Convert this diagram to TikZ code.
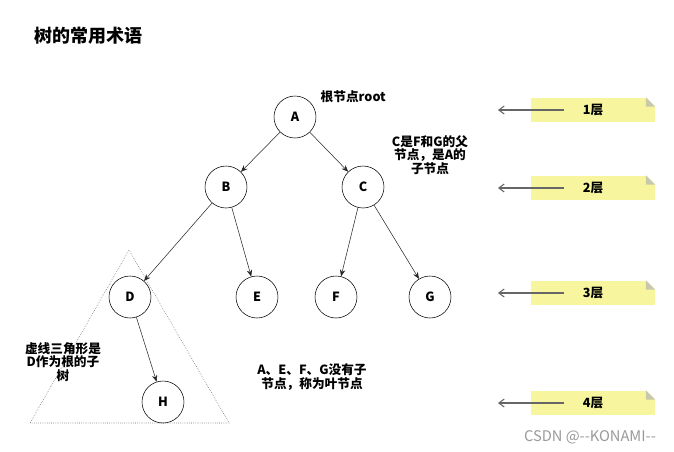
\documentclass[tikz,border=0pt]{standalone}
\usepackage{fontspec}
\setmainfont{Noto Sans CJK SC}
\usetikzlibrary{arrows.meta}
\definecolor{noteyellow}{RGB}{247,246,158}
\definecolor{foldgray}{RGB}{200,200,170}
\tikzset{
  treenode/.style={draw,circle,minimum size=31.5pt,inner sep=0pt,
    font=\bfseries\fontsize{9.5}{10}\selectfont},
  treeedge/.style={-{Stealth[length=5pt,width=4pt]},black!85},
  remark/.style={align=center,font=\bfseries\fontsize{9.5}{10}\selectfont},
  layernote/.style={fill=noteyellow,minimum width=93pt,minimum height=18.5pt,
    inner sep=0pt,font=\bfseries\fontsize{9.5}{10}\selectfont},
  layerarrow/.style={-{Straight Barb[length=4pt,width=6pt]},gray!80!black,thick}
}
\begin{document}
\begin{tikzpicture}[x=0.75pt,y=-0.75pt]
  \useasboundingbox (0,0) rectangle (674,451);
  % Title
  \node[anchor=west,font=\bfseries\fontsize{13.5}{15}\selectfont] (title) at (30,36) {树的常用术语};
  % Tree nodes
  \node[treenode] (A) at (295,117) {A};
  \node[treenode] (B) at (226,187) {B};
  \node[treenode] (C) at (363,187) {C};
  \node[treenode] (D) at (130,297) {D};
  \node[treenode] (E) at (257,297) {E};
  \node[treenode] (F) at (336,297) {F};
  \node[treenode] (G) at (430,297) {G};
  \node[treenode] (H) at (163,402) {H};
  % Edges
  \draw[treeedge] (A) -- (B);
  \draw[treeedge] (A) -- (C);
  \draw[treeedge] (B) -- (D);
  \draw[treeedge] (B) -- (E);
  \draw[treeedge] (C) -- (F);
  \draw[treeedge] (C) -- (G);
  \draw[treeedge] (D) -- (H);
  % Dashed triangle around subtree D
  \draw[densely dotted,gray!70!black] (129,250) -- (229,423) -- (30,423) -- cycle;
  % Remarks
  \node[remark,anchor=west] (rootlbl) at (316,97) {根节点root};
  \node[remark] (cnote) at (430,155) {C是F和G的父\\节点，是A的\\子节点};
  \node[remark] (dnote) at (63,362) {虚线三角形是\\D作为根的子\\树};
  \node[remark] (leafnote) at (312,377) {A、E、F、G没有子\\节点，称为叶节点};
  % Layer notes
  \foreach \y/\k in {110/1,188/2,293/3,403/4}{
    \node[layernote] (lay\k) at (593,\y) {\k 层};
    \fill[white] ([xshift=-7pt]lay\k.north east) -- (lay\k.north east) -- ([yshift=-7pt]lay\k.north east) -- cycle;
    \fill[foldgray] ([xshift=-7pt]lay\k.north east) -- ([xshift=-7pt,yshift=-7pt]lay\k.north east) -- ([yshift=-7pt]lay\k.north east) -- cycle;
    \coordinate (tip\k) at (498,\y);
    \draw[layerarrow] ([xshift=25pt]lay\k.west) -- (tip\k);
  }
  % Watermark
  \node[font=\fontsize{11}{13}\selectfont,text=gray!80] (mark) at (590,437) {CSDN @{-}{-}KONAMI{-}{-}};
\end{tikzpicture}
\end{document}
